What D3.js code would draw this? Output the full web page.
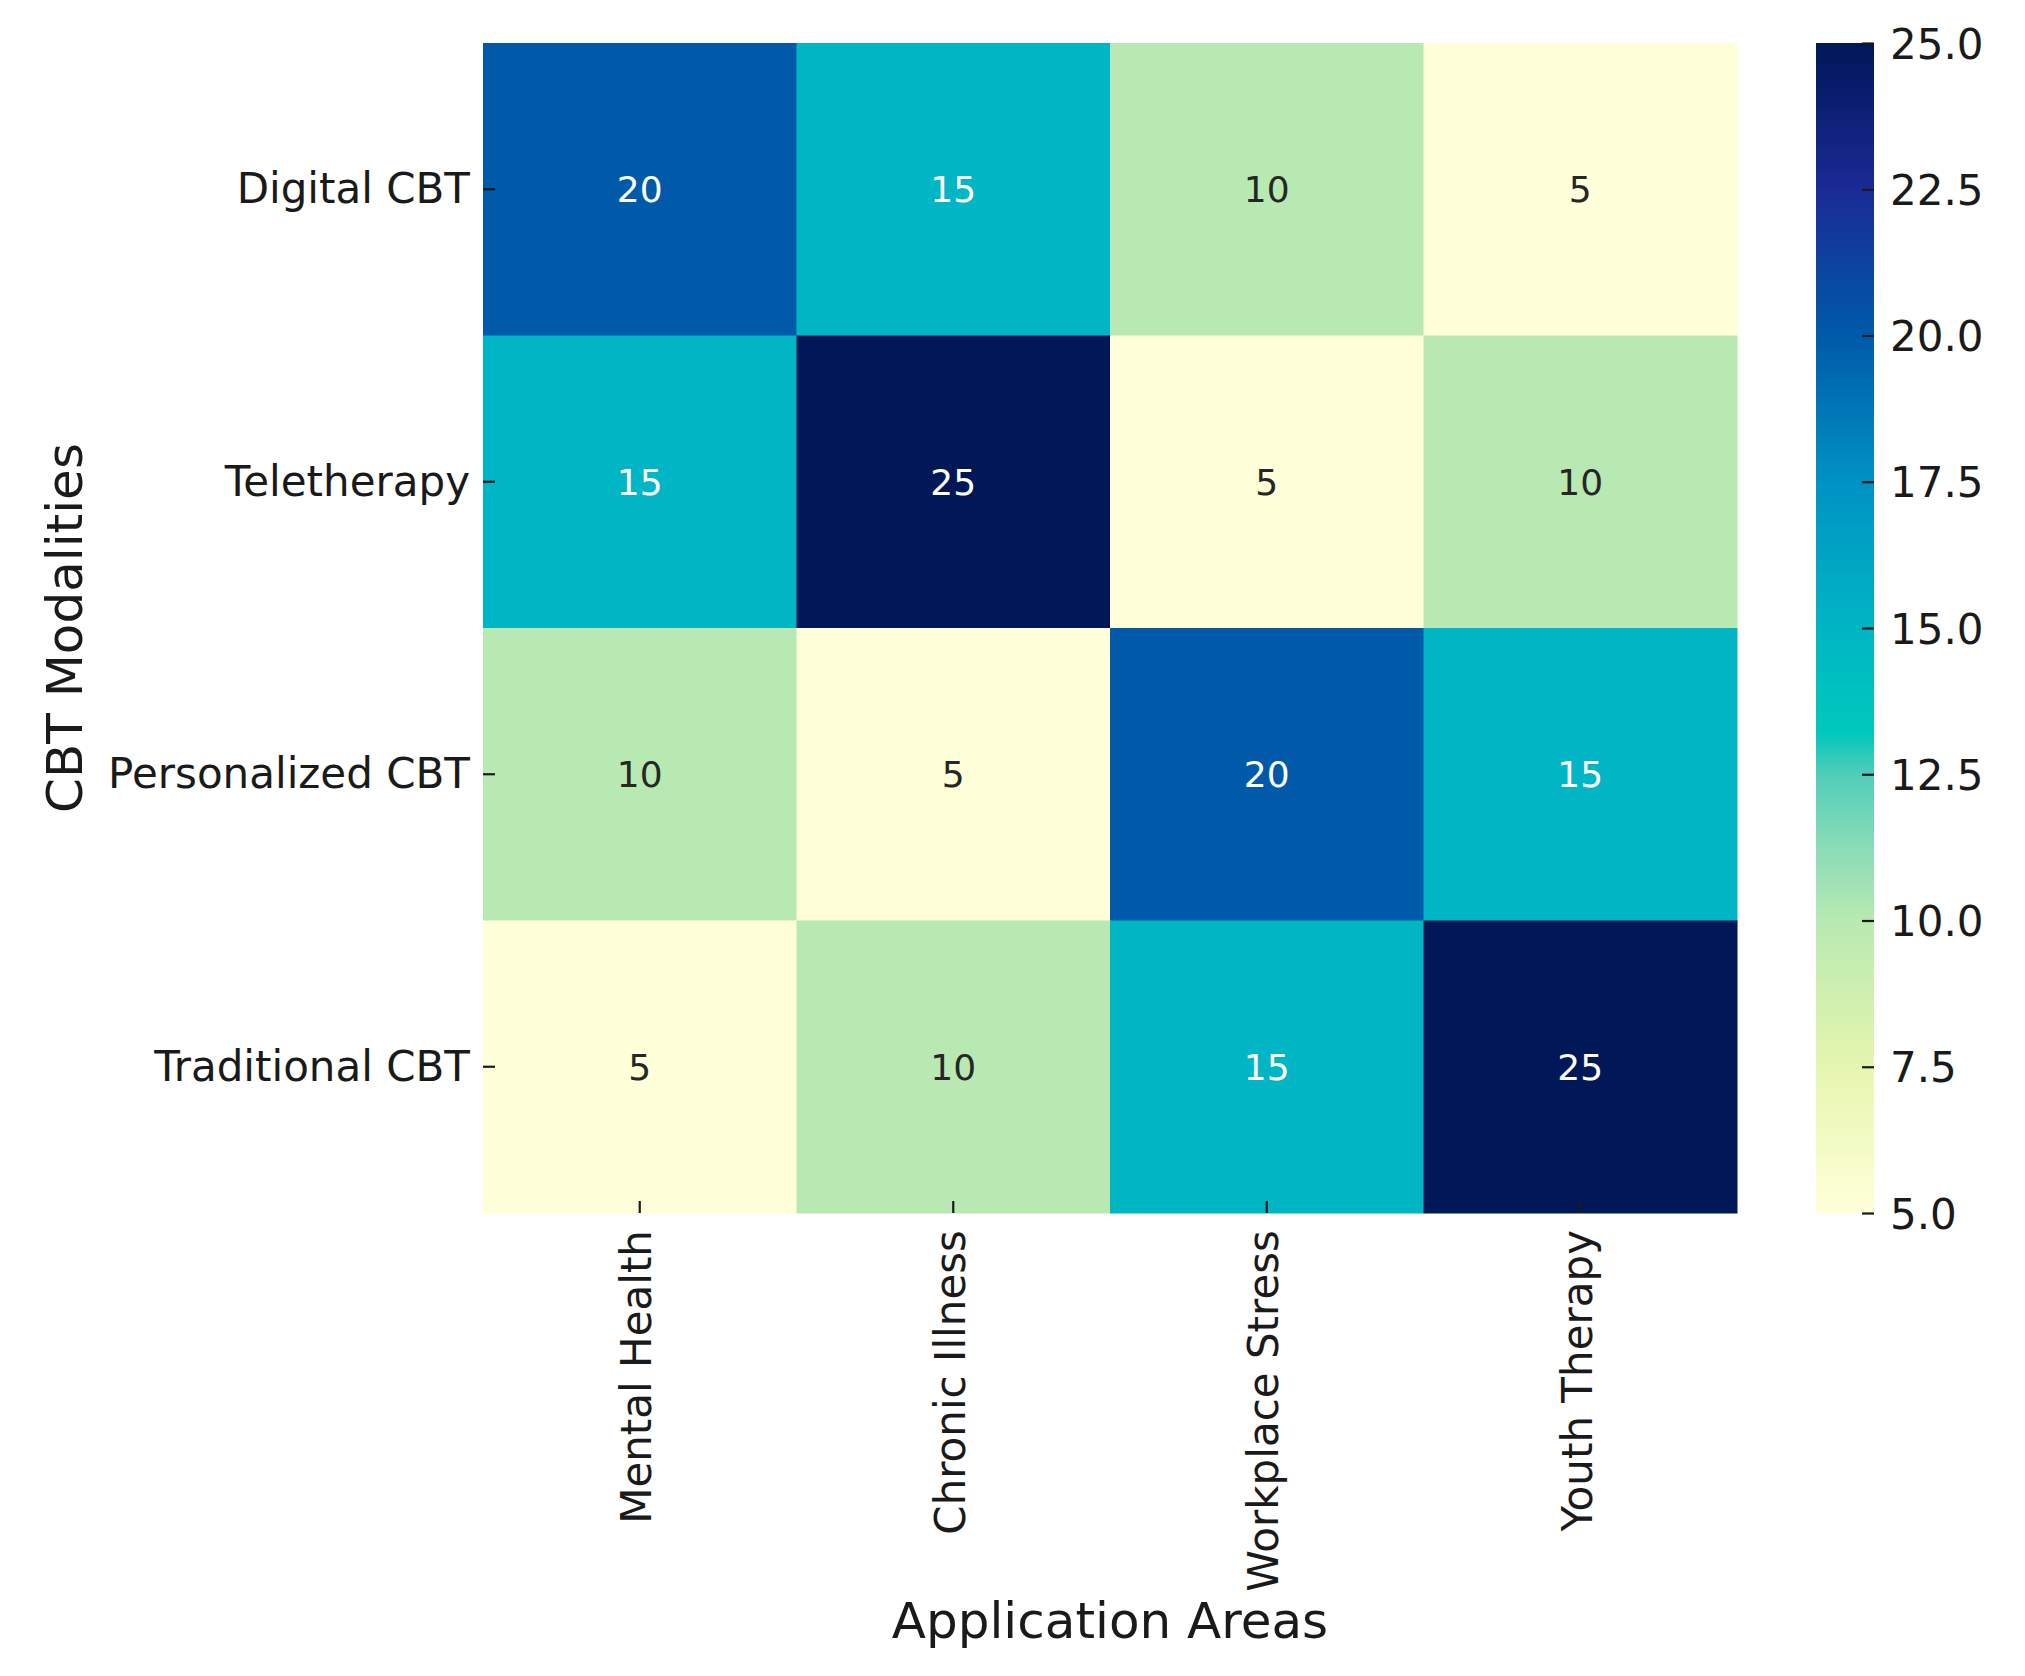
<!DOCTYPE html>
<html>
<head>
<meta charset="utf-8">
<script src="https://cdn.jsdelivr.net/npm/d3@7"></script>
<style>
  body { margin: 0; background: white; }
  svg text { font-family: "DejaVu Sans", sans-serif; }
</style>
</head>
<body>
<div id="chart"></div>
<script>
const modalities = ["Digital CBT", "Teletherapy", "Personalized CBT", "Traditional CBT"]
const areas = ["Mental Health", "Chronic Illness", "Workplace Stress", "Youth Therapy"]
const values = [
  [20, 15, 10, 5],
  [15, 25, 5, 10],
  [10, 5, 20, 15],
  [5, 10, 15, 25],
]
const colorTicks = [5, 7.5, 10, 12.5, 15, 17.5, 20, 22.5, 25]

// YlGnBu as it looks in the picture (a bit more saturated than the stock one)
const stopValues = [5, 7.5, 10, 11.25, 12.5, 13.2, 15, 17.5, 20, 22.5, 25]
const stopColors = ["#ffffd9", "#e6f6af", "#b8e9b2", "#8adbb8", "#50cdb9", "#00c8bc",
  "#00b5c4", "#0092c4", "#005aa9", "#1a2a95", "#001758"]

const width = 2025
const height = 1676
const plot = {left: 483, right: 1737, top: 43, bottom: 1213}
const bar = {left: 1816, right: 1874}
const ink = "#1a1a1a"

const color = d3.scaleLinear()
  .domain(stopValues)
  .range(stopColors)
  .interpolate(d3.interpolateRgb)
  .clamp(true)

const x = d3.scaleBand().domain(areas).range([plot.left, plot.right])
const y = d3.scaleBand().domain(modalities).range([plot.top, plot.bottom])
const cbar = d3.scaleLinear().domain([5, 25]).range([plot.bottom, plot.top])

const cells = modalities.flatMap((m, i) => areas.map((a, j) => ({m, a, v: values[i][j]})))

const svg = d3.select("#chart").append("svg")
  .attr("width", width)
  .attr("height", height)

svg.append("g")
  .selectAll("rect")
  .data(cells)
  .join("rect")
    .attr("x", d => x(d.a))
    .attr("y", d => y(d.m))
    .attr("width", x.bandwidth() + 0.5)
    .attr("height", y.bandwidth() + 0.5)
    .attr("fill", d => color(d.v))

svg.append("g")
  .selectAll("text")
  .data(cells)
  .join("text")
    .attr("x", d => x(d.a) + x.bandwidth() / 2)
    .attr("y", d => y(d.m) + y.bandwidth() / 2)
    .attr("dy", "0.36em")
    .attr("text-anchor", "middle")
    .attr("font-size", 36)
    .attr("fill", d => d.v >= 15 ? "white" : "#262626")
    .text(d => d.v)

function styleAxis(g) {
  g.select(".domain").remove()
  g.selectAll(".tick line").attr("stroke", ink).attr("stroke-width", 2.2)
  g.selectAll(".tick text").attr("fill", ink).attr("font-size", 42)
    .attr("font-family", "DejaVu Sans")
}

// ticks point inward, as in the picture
svg.append("g")
  .attr("transform", `translate(${plot.left},0)`)
  .call(d3.axisLeft(y).tickSize(-12).tickPadding(13))
  .call(styleAxis)
  .call(g => g.selectAll(".tick text").attr("dy", "0.33em"))

svg.append("g")
  .attr("transform", `translate(0,${plot.bottom})`)
  .call(d3.axisBottom(x).tickSize(-12))
  .call(styleAxis)
  .call(g => g.selectAll(".tick text")
    .attr("transform", "rotate(-90)")
    .attr("text-anchor", "end")
    .attr("x", -17)
    .attr("y", 0)
    .attr("dy", "0.27em"))

// colour bar
const grad = svg.append("defs").append("linearGradient")
  .attr("id", "cbar-grad")
  .attr("x1", 0).attr("y1", 1)
  .attr("x2", 0).attr("y2", 0)
grad.selectAll("stop")
  .data(d3.range(0, 101))
  .join("stop")
    .attr("offset", d => d + "%")
    .attr("stop-color", d => color(5 + 20 * d / 100))

svg.append("rect")
  .attr("x", bar.left)
  .attr("y", plot.top)
  .attr("width", bar.right - bar.left)
  .attr("height", plot.bottom - plot.top)
  .attr("fill", "url(#cbar-grad)")

svg.append("g")
  .attr("transform", `translate(${bar.right},0)`)
  .call(d3.axisRight(cbar).tickValues(colorTicks).tickFormat(d3.format(".1f"))
    .tickSize(-12).tickPadding(16))
  .call(styleAxis)
  .call(g => g.selectAll(".tick text").attr("dy", "0.36em"))

svg.append("text")
  .attr("x", (plot.left + plot.right) / 2)
  .attr("y", 1638)
  .attr("text-anchor", "middle")
  .attr("font-size", 50)
  .attr("fill", ink)
  .text("Application Areas")

svg.append("text")
  .attr("transform", `translate(82,${(plot.top + plot.bottom) / 2}) rotate(-90)`)
  .attr("text-anchor", "middle")
  .attr("font-size", 50)
  .attr("fill", ink)
  .text("CBT Modalities")
</script>
</body>
</html>
